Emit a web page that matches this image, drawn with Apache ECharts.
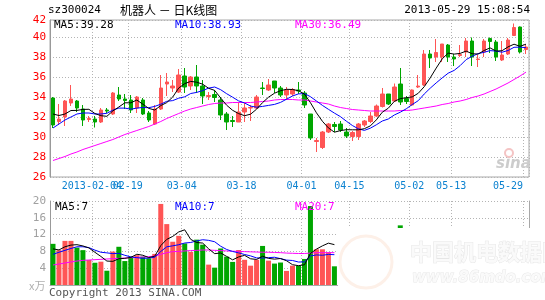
<!DOCTYPE html>
<html><head><meta charset="utf-8">
<script src="https://cdn.jsdelivr.net/npm/echarts/dist/echarts.min.js"></script>
<style>html,body{margin:0;padding:0;background:#fff}#c{width:545px;height:300px}</style>
</head><body><div id="c"></div>
<script>
const dates = ['2013-01-24','2013-01-25','2013-01-28','2013-01-29','2013-01-30','2013-01-31','2013-02-01','2013-02-04','2013-02-05','2013-02-06','2013-02-07','2013-02-08','2013-02-18','2013-02-19','2013-02-20','2013-02-21','2013-02-22','2013-02-25','2013-02-26','2013-02-27','2013-02-28','2013-03-01','2013-03-04','2013-03-05','2013-03-06','2013-03-07','2013-03-08','2013-03-11','2013-03-12','2013-03-13','2013-03-14','2013-03-15','2013-03-18','2013-03-19','2013-03-20','2013-03-21','2013-03-22','2013-03-25','2013-03-26','2013-03-27','2013-03-28','2013-03-29','2013-04-01','2013-04-02','2013-04-03','2013-04-08','2013-04-09','2013-04-10','2013-04-11','2013-04-12','2013-04-15','2013-04-16','2013-04-17','2013-04-18','2013-04-19','2013-04-22','2013-04-23','2013-04-24','2013-04-25','2013-04-26','2013-05-02','2013-05-03','2013-05-06','2013-05-07','2013-05-08','2013-05-09','2013-05-10','2013-05-13','2013-05-14','2013-05-15','2013-05-16','2013-05-17','2013-05-20','2013-05-21','2013-05-22','2013-05-23','2013-05-24','2013-05-27','2013-05-28','2013-05-29'];

const tickDates = ['2013-02-04','2013-02-19','2013-03-04','2013-03-18','2013-04-01','2013-04-15','2013-05-02','2013-05-13','2013-05-29'];
const tickLabels = ['2013-02-04','02-19','03-04','03-18','04-01','04-15','05-02','05-13','05-29'];

const open  = [33.9,31.55,32.0,33.4,33.6,32.8,31.75,31.8,31.5,32.7,32.3,34.2,33.8,33.7,32.9,33.7,32.4,31.3,32.8,35.3,34.9,34.5,36.1,35.1,36.0,35.1,34.05,34.25,33.7,32.3,31.65,31.5,32.5,32.9,32.9,34.9,34.7,35.6,34.9,34.2,34.3,34.7,34.4,32.3,29.55,28.95,30.5,31.25,31.3,30.5,30.05,30.05,31.2,31.55,32.1,33.05,34.3,33.6,35.3,33.85,33.2,35.0,35.2,38.3,38.0,38.0,39.2,38.0,38.15,38.5,39.6,37.75,38.5,39.85,39.5,37.7,38.3,40.15,41.0,38.75];
const close = [31.2,31.8,33.6,33.8,32.9,31.7,31.85,31.5,32.7,32.6,34.4,33.8,33.65,32.7,34.0,32.3,31.7,32.8,34.9,35.5,35.1,36.2,35.0,36.0,35.1,34.1,34.15,33.95,32.2,31.5,31.55,32.5,32.9,32.95,34.0,34.85,35.2,34.9,34.2,34.7,34.75,34.6,33.2,29.9,29.65,30.5,31.3,31.05,30.7,30.1,30.45,31.3,31.6,32.1,33.1,34.3,33.3,35.0,33.5,33.55,34.7,35.1,38.3,37.9,38.45,39.3,38.0,37.8,38.25,39.6,38.0,37.8,39.6,39.55,38.0,38.2,39.7,40.95,38.5,39.0];
const low   = [30.9,31.2,31.1,33.1,32.5,31.1,31.5,30.95,31.4,32.4,32.2,33.6,32.8,32.4,32.4,32.2,31.5,31.2,32.7,34.1,34.5,34.4,34.4,34.7,34.4,33.3,33.7,33.5,31.7,30.7,31.0,31.5,31.5,31.6,32.8,34.2,34.6,34.4,34.0,33.7,34.1,34.3,32.9,29.7,28.5,28.8,30.4,30.5,30.5,29.9,29.6,29.7,31.0,31.4,32.0,32.95,33.2,33.5,33.2,33.3,33.15,34.9,35.1,36.9,37.5,37.5,37.5,37.1,38.0,38.0,37.1,37.0,38.0,38.4,37.6,37.6,38.2,40.1,38.35,38.3];
const high  = [34.0,33.3,33.7,35.2,33.7,33.2,32.1,32.1,32.9,32.9,34.5,35.0,34.3,34.2,34.1,33.9,32.6,33.2,36.2,36.4,35.7,36.8,36.9,36.1,37.2,35.7,34.5,34.7,34.0,32.5,32.1,33.5,33.4,33.2,34.2,35.5,35.8,35.6,35.1,35.0,34.9,35.5,34.6,32.3,29.9,30.6,31.4,31.5,31.6,30.9,30.6,31.4,31.7,32.5,33.25,34.9,34.3,35.35,36.9,34.1,34.75,36.2,38.7,38.7,39.8,39.3,39.3,38.3,39.2,39.9,39.95,38.2,39.8,39.95,39.7,39.6,39.9,41.35,41.05,39.2];

const ma5  = [32.3,32.15,32.3,32.65,32.66,32.76,32.77,32.35,32.13,32.07,32.61,33.0,33.42,33.42,33.7,33.28,32.86,32.7,33.14,33.44,34.0,34.9,35.34,35.56,35.48,35.28,34.87,34.66,33.9,33.18,32.67,32.34,32.13,32.28,32.78,33.44,33.98,34.38,34.63,34.77,34.75,34.63,34.29,33.43,32.42,31.57,30.91,30.48,30.64,30.73,30.72,30.72,30.83,31.11,31.71,32.48,32.88,33.56,33.84,33.93,34.01,34.37,35.03,35.91,36.89,37.81,38.39,38.29,38.36,38.59,38.33,38.29,38.65,38.91,38.59,38.63,39.01,39.28,39.07,39.28];
const ma10 = [30.9,31.3,31.7,32.0,32.3,32.4,32.4,32.3,32.3,32.37,32.69,32.89,32.89,32.78,32.89,32.95,32.93,33.06,33.28,33.57,33.64,33.88,34.02,34.35,34.46,34.64,34.89,35.0,34.73,34.33,33.98,33.61,33.4,33.09,32.98,33.06,33.16,33.26,33.46,33.78,34.1,34.31,34.34,34.03,33.6,33.16,32.77,32.39,32.04,31.58,31.15,30.82,30.66,30.88,31.22,31.6,31.8,32.2,32.48,32.82,33.25,33.63,34.3,34.88,35.41,35.91,36.38,36.66,37.14,37.74,38.07,38.34,38.47,38.64,38.59,38.48,38.65,38.97,38.99,38.93];
const ma30 = [27.65,27.85,28.05,28.3,28.5,28.75,28.95,29.15,29.35,29.55,29.75,30.0,30.25,30.45,30.65,30.85,31.05,31.3,31.55,31.85,32.1,32.35,32.6,32.8,32.95,33.1,33.25,33.35,33.4,33.4,33.45,33.45,33.45,33.45,33.5,33.55,33.6,33.7,33.75,33.75,33.75,33.7,33.7,33.6,33.5,33.4,33.3,33.1,32.95,32.85,32.75,32.7,32.65,32.6,32.6,32.6,32.6,32.6,32.65,32.65,32.7,32.8,32.9,33.0,33.1,33.25,33.35,33.5,33.6,33.75,33.95,34.1,34.3,34.55,34.8,35.1,35.4,35.75,36.1,36.49];

const vol = [9.8,8.3,10.5,10.5,8.9,8.3,5.95,5.3,5.55,3.4,7.95,9.1,5.7,6.75,7.1,6.75,6.35,7.4,19.3,14.5,10.3,11.7,9.9,7.9,10.8,9.6,4.85,4.13,8.7,6.75,5.5,8.33,6.0,4.6,6.0,9.3,5.8,5.1,5.35,3.35,4.6,4.6,6.2,18.8,8.5,8.5,7.8,4.45,
  null,null,null,null,null,null,null,null,null,null,14.2,null,null,null,null,null,null,null,null,null,null,null,null,null,null,null,null,null,null,null,null,null];
const volMa5  = [8.6,8.35,9.1,9.5,9.6,9.3,8.83,7.79,6.8,5.7,5.63,6.26,6.34,6.58,7.32,7.08,6.53,6.87,9.38,10.86,11.57,12.64,13.14,10.86,10.12,9.98,8.61,7.46,7.62,6.81,5.99,6.68,7.06,6.24,6.09,6.85,6.34,6.16,6.31,5.78,4.84,4.6,4.82,7.51,8.54,9.32,9.96,9.61];
const volMa10 = [7.3,7.8,8.25,8.7,9.1,9.1,8.9,8.3,7.8,7.65,7.47,7.55,7.07,6.69,6.51,6.36,6.4,6.61,7.98,9.09,9.33,9.59,10.0,10.12,10.49,10.78,10.63,10.3,9.24,8.46,7.98,7.65,7.26,6.93,6.45,6.42,6.51,6.61,6.27,5.93,5.84,5.47,5.49,6.91,7.16,7.08,7.28,7.22];
const volMa30 = [4.76,5.0,5.24,5.48,5.71,5.87,5.95,6.03,6.11,6.19,6.27,6.35,6.43,6.5,6.58,6.66,6.75,6.9,7.3,7.7,7.94,8.0,8.1,8.2,8.25,8.33,8.33,8.25,8.2,8.1,8.05,8.0,7.95,7.9,7.85,7.8,7.8,7.75,7.7,7.6,7.55,7.5,7.5,7.6,7.7,7.7,7.7,7.7];

const priceTicks = [26,28,30,32,34,36,38,40,42];
const volTicks = [0,4,8,12,16,20];

const RED = '#ff5555', GREEN = '#00a600';
const MONO = '"DejaVu Sans Mono", monospace';

const tickIdx = tickDates.map(d => dates.indexOf(d));
const showTick = (i) => tickIdx.indexOf(i) >= 0;
const firstIdx = tickIdx[0];
const candleData = open.map((o, i) => [o, close[i], low[i], high[i]]);
const volData = vol.map((v, i) => ({ value: v, itemStyle: { color: close[i] >= open[i] ? RED : GREEN } }));

const dotted = { color: '#b4b4b4', type: [1, 2], width: 1 };
const labelStyle = { color: '#0c82d0', fontFamily: MONO, fontSize: 10 };
const fmt = (v) => { const k = tickDates.indexOf(v); if (k < 0) return ''; return k === tickDates.length - 1 ? '{e|' + tickLabels[k] + '}' : '{n|' + tickLabels[k] + '}'; };
const rich = { n: { padding: [0, 6, 0, 0], ...labelStyle }, e: { padding: [0, 36, 0, 0], ...labelStyle } };

const chart = echarts.init(document.getElementById('c'));
chart.setOption({
  animation: false,
  backgroundColor: '#fff',
  grid: [
    { left: 50, right: 16, top: 20, height: 157, show: true, borderColor: '#a8a8a8', borderWidth: 1 },
    { left: 50, right: 16, top: 201, height: 84 }
  ],
  xAxis: [
    { type: 'category', gridIndex: 0, data: dates, boundaryGap: true,
      axisLine: { show: false }, axisTick: { show: false },
      axisLabel: { interval: (i) => showTick(i) && i !== firstIdx, hideOverlap: false, margin: 4, ...labelStyle, formatter: fmt, rich },
      splitLine: { show: true, interval: (i) => showTick(i), lineStyle: dotted } },
    { type: 'category', gridIndex: 1, data: dates, boundaryGap: true, position: 'top',
      axisLine: { show: true, lineStyle: { color: '#a8a8a8' } }, axisTick: { show: false }, axisLabel: { show: false },
      splitLine: { show: true, interval: (i) => showTick(i), lineStyle: dotted } },
    { type: 'category', gridIndex: 0, data: dates, boundaryGap: true, position: 'bottom',
      axisLine: { show: false }, axisTick: { show: false }, splitLine: { show: false },
      axisLabel: { interval: (i) => i === firstIdx, hideOverlap: false, margin: 4, ...labelStyle, formatter: fmt, rich } }
  ],
  yAxis: [
    { type: 'value', gridIndex: 0, min: priceTicks[0], max: 41.7, interval: 2,
      axisLine: { show: true, lineStyle: { color: '#999' } }, axisTick: { show: false },
      axisLabel: { color: '#ff0000', fontFamily: MONO, fontSize: 11, margin: 4, hideOverlap: false, formatter: (v) => String(Math.round(v)) },
      splitLine: { show: true, lineStyle: dotted } },
    { type: 'value', gridIndex: 1, min: volTicks[0], max: volTicks[volTicks.length - 1], interval: 4,
      axisLine: { show: true, lineStyle: { color: '#999' } }, axisTick: { show: false },
      axisLabel: { color: '#a0a0a0', fontFamily: MONO, fontSize: 11, margin: 4, formatter: (v) => v === 0 ? '' : String(v) },
      splitLine: { show: true, lineStyle: dotted } },
    { type: 'value', gridIndex: 1, position: 'right', min: 0, max: 20,
      axisLine: { show: true, lineStyle: { color: '#a8a8a8' } }, axisTick: { show: false }, axisLabel: { show: false }, splitLine: { show: false } }
  ],
  series: [
    { type: 'candlestick', xAxisIndex: 0, yAxisIndex: 0, data: candleData, barWidth: 4,
      itemStyle: { color: RED, color0: GREEN, borderColor: RED, borderColor0: GREEN, borderWidth: 1 } },
    { type: 'line', xAxisIndex: 0, yAxisIndex: 0, data: ma30, symbol: 'none', lineStyle: { color: '#ff00ff', width: 1 } },
    { type: 'line', xAxisIndex: 0, yAxisIndex: 0, data: ma10, symbol: 'none', lineStyle: { color: '#0000ff', width: 1 } },
    { type: 'line', xAxisIndex: 0, yAxisIndex: 0, data: ma5, symbol: 'none', lineStyle: { color: '#000000', width: 1 } },
    { type: 'bar', xAxisIndex: 1, yAxisIndex: 1, data: volData, barWidth: 5 },
    { type: 'line', xAxisIndex: 1, yAxisIndex: 1, data: volMa30, symbol: 'none', lineStyle: { color: '#ff00ff', width: 1 } },
    { type: 'line', xAxisIndex: 1, yAxisIndex: 1, data: volMa10, symbol: 'none', lineStyle: { color: '#0000ff', width: 1 } },
    { type: 'line', xAxisIndex: 1, yAxisIndex: 1, data: volMa5, symbol: 'none', lineStyle: { color: '#000000', width: 1 } }
  ],
  graphic: [
    { type: 'text', x: 48, y: 10, z: 120, style: { text: 'sz300024', font: '11px ' + MONO, fill: '#000', verticalAlign: 'middle' } },
    { type: 'text', x: 120, y: 10, z: 120, style: { text: '机器人 － 日K线图', font: '12px "Noto Sans CJK SC"', fill: '#000', verticalAlign: 'middle' } },
    { type: 'text', x: 530, y: 10, z: 120, style: { text: '2013-05-29 15:08:54', font: '11px ' + MONO, fill: '#000', align: 'right', verticalAlign: 'middle' } },
    { type: 'text', x: 54, y: 25, z: 120, style: { text: 'MA5:39.28', font: '11px ' + MONO, fill: '#000', verticalAlign: 'middle' } },
    { type: 'text', x: 175, y: 25, z: 120, style: { text: 'MA10:38.93', font: '11px ' + MONO, fill: '#0000ff', verticalAlign: 'middle' } },
    { type: 'text', x: 295, y: 25, z: 120, style: { text: 'MA30:36.49', font: '11px ' + MONO, fill: '#ff00ff', verticalAlign: 'middle' } },
    { type: 'text', x: 496, y: 164, z: 30, style: { text: 'sina', font: 'italic bold 15px "DejaVu Sans"', fill: '#cccccc', verticalAlign: 'middle' } },
    { type: 'circle', shape: { cx: 509, cy: 153, r: 4 }, z: 30, style: { fill: 'none', stroke: '#f4c4c4', lineWidth: 2 } },
    { type: 'text', x: 55, y: 207, z: 120, style: { text: 'MA5:7', font: '11px ' + MONO, fill: '#000', verticalAlign: 'middle' } },
    { type: 'text', x: 175, y: 207, z: 120, style: { text: 'MA10:7', font: '11px ' + MONO, fill: '#0000ff', verticalAlign: 'middle' } },
    { type: 'text', x: 295, y: 207, z: 120, style: { text: 'MA20:7', font: '11px ' + MONO, fill: '#ff00ff', verticalAlign: 'middle' } },
    { type: 'rect', shape: { x: 338, y: 228, width: 207, height: 72 }, z: 100, style: { fill: '#fff' } },
    { type: 'circle', shape: { cx: 366, cy: 262, r: 26 }, z: 101, style: { fill: 'none', stroke: '#fdf0e8', lineWidth: 3 } },
    { type: 'text', x: 410, y: 252, z: 102, style: { text: '中国机电数据网', font: 'bold 22px "Noto Sans CJK SC"', fill: '#fafafa', stroke: '#e6e6e6', lineWidth: 1, verticalAlign: 'middle' } },
    { type: 'text', x: 412, y: 278, z: 102, style: { text: 'www.86mdo.com', font: 'bold italic 15px "DejaVu Sans"', fill: '#fafafa', stroke: '#e8e8e8', lineWidth: 1, verticalAlign: 'middle' } },
    { type: 'text', x: 29, y: 286, z: 120, style: { text: 'x万', font: '11px "Noto Sans CJK SC"', fill: '#b0b0b0', verticalAlign: 'middle' } },
    { type: 'text', x: 49, y: 293, z: 120, style: { text: 'Copyright 2013 SINA.COM', font: '11px ' + MONO, fill: '#555', verticalAlign: 'middle' } }
  ]
});
</script>
</body></html>
